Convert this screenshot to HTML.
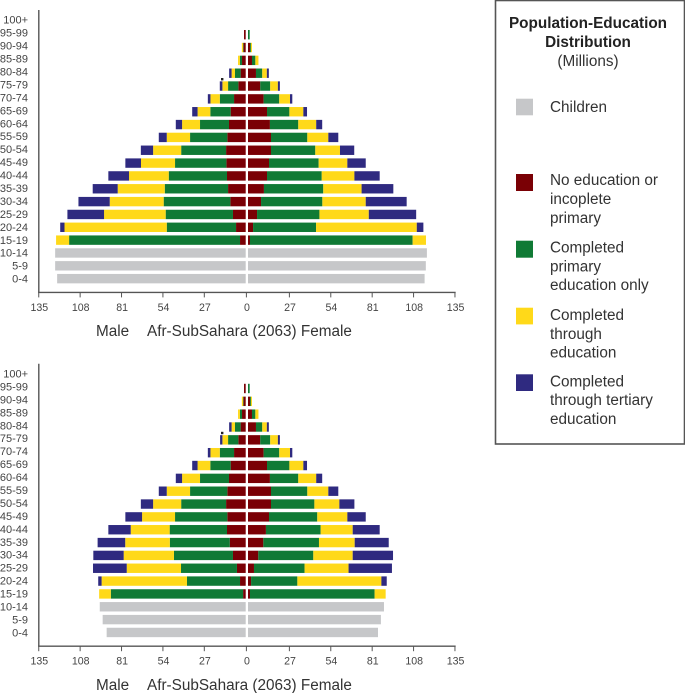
<!DOCTYPE html>
<html lang="en">
<head>
<meta charset="utf-8">
<title>Population-Education Distribution</title>
<style>
html,body{margin:0;padding:0;background:#fff;width:685px;height:693px;overflow:hidden}
svg{display:block;font-family:"Liberation Sans",Arial,sans-serif;filter:blur(0.3px)}
.tick-text{font-size:10.6px;fill:#444}
.age-text{font-size:11px;fill:#444}
.axis-title{font-size:15.3px;fill:#333}
.legend-title{font-size:15.3px;font-weight:bold;fill:#222;text-anchor:middle}
.legend-sub{font-size:15.3px;fill:#333;text-anchor:middle}
.legend-text{font-size:15.3px;fill:#333}
</style>
</head>
<body>
<svg id="chart" width="685" height="693" viewBox="0 0 685 693" xmlns="http://www.w3.org/2000/svg">
  <g>
    <rect x="495.5" y="0.5" width="189" height="443.5" fill="#fff" stroke="#555" stroke-width="1.6"/>
    <text class="legend-title" x="588" y="27.8">Population-Education</text>
    <text class="legend-title" x="588" y="46.8">Distribution</text>
    <text class="legend-sub" x="588" y="66">(Millions)</text>

    <rect x="516" y="98.7" width="17" height="16.6" fill="#c6c7c9"/>
    <text class="legend-text" x="550" y="111.8">Children</text>

    <rect x="516" y="174" width="17" height="17" fill="#7a0005"/>
    <text class="legend-text"><tspan x="550" y="185">No education or</tspan><tspan x="550" y="204">incoplete</tspan><tspan x="550" y="223">primary</tspan></text>

    <rect x="516" y="240.7" width="17" height="17" fill="#107a35"/>
    <text class="legend-text"><tspan x="550" y="252.7">Completed</tspan><tspan x="550" y="271.7">primary</tspan><tspan x="550" y="290.2">education only</tspan></text>

    <rect x="516" y="307.7" width="17" height="16.7" fill="#ffd919"/>
    <text class="legend-text"><tspan x="550" y="320">Completed</tspan><tspan x="550" y="339">through</tspan><tspan x="550" y="357.6">education</tspan></text>

    <rect x="516" y="374.3" width="17" height="16.7" fill="#2f2a80"/>
    <text class="legend-text"><tspan x="550" y="386.7">Completed</tspan><tspan x="550" y="405">through tertiary</tspan><tspan x="550" y="424">education</tspan></text>
  </g>
</svg>
<script>
const ageGroups = ['100+','95-99','90-94','85-89','80-84','75-79','70-74','65-69','60-64','55-59','50-54','45-49','40-44','35-39','30-34','25-29','20-24','15-19','10-14','5-9','0-4'];
const maleTicks = [135,108,81,54,27];
const femaleTicks = [0,27,54,81,108,135];

const topMaleNone = [0,1.1,1.4,2.4,3.3,4.8,7.6,9.8,10.9,12,12.8,12.6,12.2,11.5,10,8.3,6.3,3.7,0,0,0];
const topMalePrimary = [0,0,0.3,1.4,3.7,6.7,9.3,13.3,18.9,24.3,29.3,33.5,38,41.3,43.5,43.9,45.2,111.5,0,0,0];
const topMaleSecondary = [0,0,0.8,1.2,2.2,3.7,6.1,8.3,11.7,15.2,18.3,22.2,25.9,30.7,35.2,40.2,66.7,8.5,0,0,0];
const topMaleTertiary = [0,0,0,0,1.6,1.7,1.7,3.5,4.1,5.2,8,10.2,13.5,16.3,20.4,23.9,2.8,0,0,0,0];
const topMaleChildren = [0,0,0,0,0,0,0,0,0,0,0,0,0,0,0,0,0,0,124.3,124.3,123];
const topFemaleNone = [0,0,1.3,2.6,5.2,8,10.2,12.4,14.3,15,15,13.7,12.4,10.4,8.5,5.9,3.3,1.3,0,0,0];
const topFemalePrimary = [0,1.1,0.6,2.2,4.1,6.5,10.2,14.6,18.5,23.7,28.9,32.4,35.7,38.7,40,40.7,41.1,106.1,0,0,0];
const topFemaleSecondary = [0,0,0.7,2,3,5,7,9.1,11.7,13.7,16.1,18.7,21.3,25,28.3,32.2,65.7,8.7,0,0,0];
const topFemaleTertiary = [0,0,0,0,1.3,1.3,1.5,2.4,3.9,6.5,9.3,12,16.5,20.7,26.7,30.9,4.3,0,0,0,0];
const topFemaleChildren = [0,0,0,0,0,0,0,0,0,0,0,0,0,0,0,0,0,0,116.7,116,115.2];

const bottomMaleNone = [0,1.1,1.4,2.4,3.3,4.8,7.6,9.8,10.9,12,12.8,12,12.2,10.4,8.3,5.7,3.7,1.7,0,0,0];
const bottomMalePrimary = [0,0,0.3,1.4,3.7,6.7,9.3,13.3,18.9,24.3,29.3,34.1,37.4,39.1,38.5,36.5,34.6,86.3,0,0,0];
const bottomMaleSecondary = [0,0,0.8,1.2,2.2,3.7,6.1,8.3,11.7,15.2,18.3,21.5,25.4,29.1,32.8,35.4,55.7,7.6,0,0,0];
const bottomMaleTertiary = [0,0,0,0,1.6,1.5,1.7,3.5,4.1,5.2,8,10.9,14.6,18,19.8,22,2.2,0,0,0,0];
const bottomMaleChildren = [0,0,0,0,0,0,0,0,0,0,0,0,0,0,0,0,0,0,95.2,93.3,90.7];
const bottomFemaleNone = [0,0,1.3,2.6,5.2,8,10.2,12.4,14.3,15,15,13.7,11.7,10,6.7,3.9,2,1.3,0,0,0];
const bottomFemalePrimary = [0,1.1,0.6,2.2,4.1,6.5,10.2,14.6,18.5,23.7,28.3,31.5,35.7,36.3,35.9,33,30.2,81.3,0,0,0];
const bottomFemaleSecondary = [0,0,0.7,2,3,5,7,9.1,11.7,13.7,16.3,19.6,20.9,23.3,25.7,28.7,54.8,7.2,0,0,0];
const bottomFemaleTertiary = [0,0,0,0,1.3,1.3,1.5,2.4,3.9,6.5,9.8,12,17.6,22.2,26.3,28.3,3.5,0,0,0,0];
const bottomFemaleChildren = [0,0,0,0,0,0,0,0,0,0,0,0,0,0,0,0,0,0,88.7,86.7,84.8];

const NS = 'http://www.w3.org/2000/svg';
const root = document.getElementById('chart');
const COLORS = {children:'#c6c7c9', none:'#7a0005', primary:'#107a35', secondary:'#ffd919', tertiary:'#2f2a80'};
const PX_PER_UNIT = 1.533;

function xMale(v){ return 245.7 - v * PX_PER_UNIT; }
function xFemale(v){ return 248 + v * PX_PER_UNIT; }
function barCenterY(i, offset){ return 21.85 + i * 12.84 + offset; }
function labelCenterY(i, offset){ return 19.8 + i * 12.945 + offset; }

function make(parent, tag, props, text){
  const el = document.createElementNS(NS, tag);
  for (const k in props) el.setAttribute(k, props[k]);
  if (text !== undefined) el.textContent = text;
  parent.appendChild(el);
  return el;
}

function drawSide(group, side, seriesList, offset, panel){
  const scale = side === 'male' ? xMale : xFemale;
  ageGroups.forEach(function(age, i){
    let cum = 0;
    seriesList.forEach(function(s){
      const v = s.values[i];
      if (!v) return;
      const x0 = scale(cum), x1 = scale(cum + v);
      const r = make(group, 'rect', {
        x: Math.min(x0, x1), y: barCenterY(i, offset) - 4.7,
        width: Math.abs(x1 - x0), height: 9.4, fill: COLORS[s.key]
      });
      
      
      cum += v;
    });
  });
}

function drawPanel(panel, offset, male, female){
  const g = make(root, 'g', {});
  
  

  drawSide(g, 'male', male, offset, panel);
  drawSide(g, 'female', female, offset, panel);

  ageGroups.forEach(function(age, i){
    const t = make(g, 'text', {x: 28, y: labelCenterY(i, offset) + 3.9, 'text-anchor': 'end', 'class': 'age-text'}, age);
    
    
  });

  const axisY = 292.4 + offset;
  const yAxis = make(g, 'line', {x1: 38.8, x2: 38.8, y1: 10 + offset, y2: axisY, stroke: '#555', 'stroke-width': 1.4});
  
  
  const xAxis = make(g, 'line', {x1: 38.1, x2: xFemale(135) + 0.7, y1: axisY, y2: axisY, stroke: '#555', 'stroke-width': 1.4});
  
  

  function tick(x, label, side){
    const l = make(g, 'line', {x1: x, x2: x, y1: axisY, y2: axisY + 5, stroke: '#555', 'stroke-width': 1});
    
    
    const t = make(g, 'text', {x: x + 0.6, y: axisY + 18.4, 'text-anchor': 'middle', 'class': 'tick-text'}, label);
    
    
  }
  maleTicks.forEach(function(v){ tick(xMale(v), v, 'male'); });
  femaleTicks.forEach(function(v){ tick(v === 0 ? 246.4 : xFemale(v), v, 'female'); });

  const m = make(g, 'text', {x: 96, y: 336 + offset, 'class': 'axis-title'}, 'Male');
  
  
  const a = make(g, 'text', {x: 147, y: 336 + offset, 'class': 'axis-title'}, 'Afr-SubSahara (2063) Female');
  
  

  const dot = make(g, 'rect', {x: 221, y: 78 + offset, width: 2.4, height: 2.4, fill: '#222'});
  
  
}

drawPanel('top', 0,
  [{key:'children',values:topMaleChildren},{key:'none',values:topMaleNone},{key:'primary',values:topMalePrimary},{key:'secondary',values:topMaleSecondary},{key:'tertiary',values:topMaleTertiary}],
  [{key:'children',values:topFemaleChildren},{key:'none',values:topFemaleNone},{key:'primary',values:topFemalePrimary},{key:'secondary',values:topFemaleSecondary},{key:'tertiary',values:topFemaleTertiary}]);
drawPanel('bottom', 353.8,
  [{key:'children',values:bottomMaleChildren},{key:'none',values:bottomMaleNone},{key:'primary',values:bottomMalePrimary},{key:'secondary',values:bottomMaleSecondary},{key:'tertiary',values:bottomMaleTertiary}],
  [{key:'children',values:bottomFemaleChildren},{key:'none',values:bottomFemaleNone},{key:'primary',values:bottomFemalePrimary},{key:'secondary',values:bottomFemaleSecondary},{key:'tertiary',values:bottomFemaleTertiary}]);
</script>
</body>
</html>
